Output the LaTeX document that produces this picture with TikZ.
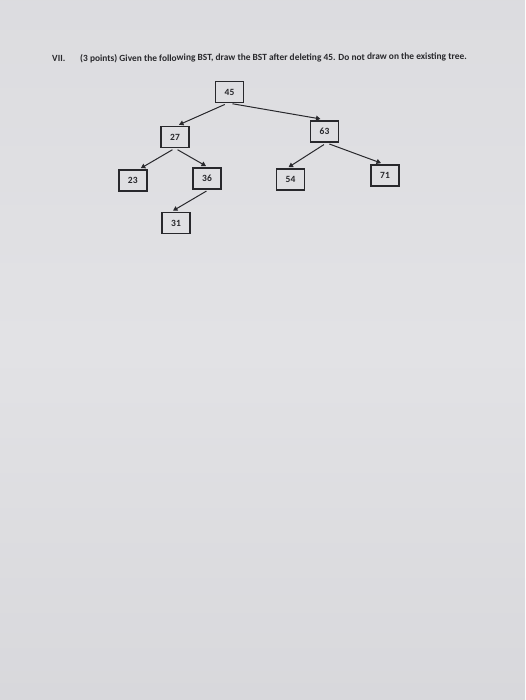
\documentclass[tikz,border=0pt]{standalone}
\usepackage{fontspec}
\setmainfont{Carlito}
\usetikzlibrary{arrows.meta}
\definecolor{ink}{RGB}{40,40,44}
\definecolor{paperA}{RGB}{206,206,211}
\definecolor{paperB}{RGB}{212,212,216}
\definecolor{paperC}{RGB}{226,226,229}
\definecolor{paperD}{RGB}{214,214,218}
\pgfdeclareverticalshading{paper}{100bp}{
  color(0bp)=(paperA);
  color(15bp)=(paperB);
  color(50bp)=(paperC);
  color(100bp)=(paperD)}
\tikzset{
  bstbox/.style={draw=ink, line width=1.5pt, minimum width=28pt, minimum height=21pt, inner sep=0pt, text=ink, font=\bfseries\fontsize{9.5}{10}\selectfont},
  bstedge/.style={draw=ink, line width=1pt, -{Triangle[width=5pt,length=4.5pt]}, shorten <=3pt},
  heading/.style={anchor=base west, text=ink, font=\bfseries\fontsize{9.4}{10}\selectfont, inner sep=0pt, rotate=0.3}
}
\begin{document}
\begin{tikzpicture}[x=1pt,y=-1pt]
\useasboundingbox (0,0) rectangle (525,700);
\shade[shading=paper] (0,0) rectangle (525,700);
\node[heading] (q) at (52,62) {VII.};
\node[heading] (qt) at (80,61.5) {(3 points) Given the following BST, draw the BST after deleting 45. Do not draw on the existing tree.};
\node[bstbox] (n45) at (229.5,92) {45};
\node[bstbox] (n27) at (175,137) {27};
\node[bstbox] (n63) at (324.5,131.7) {63};
\node[bstbox] (n23) at (132.8,180.5) {23};
\node[bstbox] (n36) at (207,178.3) {36};
\node[bstbox] (n54) at (290.5,179.5) {54};
\node[bstbox] (n71) at (385,175.3) {71};
\node[bstbox] (n31) at (176,223) {31};
\draw[bstedge] ([xshift=-2pt]n45.south) -- ([xshift=4pt,yshift=1pt]n27.north);
\draw[bstedge] (n45.south) -- ([xshift=-4pt,yshift=1.5pt]n63.north);
\draw[bstedge] (n27.south) -- ([xshift=8pt,yshift=1pt]n23.north);
\draw[bstedge] (n27.south) -- ([xshift=-1pt,yshift=1pt]n36.north);
\draw[bstedge] ([xshift=2pt]n63.south) -- ([xshift=-2pt,yshift=1pt]n54.north);
\draw[bstedge] ([xshift=2pt]n63.south) -- ([xshift=-4pt,yshift=1pt]n71.north);
\draw[bstedge] ([xshift=2pt]n36.south) -- ([xshift=-3pt,yshift=1pt]n31.north);
\end{tikzpicture}
\end{document}
